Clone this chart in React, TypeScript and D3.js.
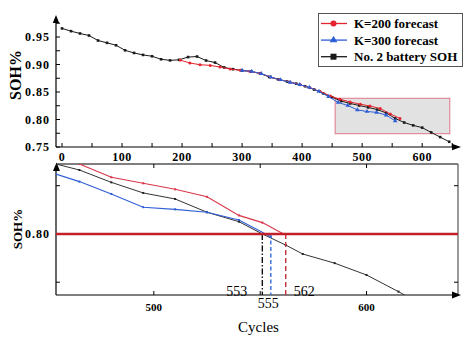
import React from "react";
import * as d3 from "d3";

// ---------- data ----------
// Upper panel: full degradation curve
const batteryCycles = [0, 15, 30, 45, 60, 75, 90, 105, 120, 135, 150, 165, 180, 195, 210, 225, 240, 255, 270, 285, 300, 315, 330, 345, 360, 375, 390, 405, 420, 435, 450, 465, 480, 495, 510, 525, 540, 555, 570, 585, 600, 615, 630, 645];
const batterySoh = [0.9656, 0.9606, 0.9564, 0.9527, 0.9436, 0.9394, 0.935, 0.9258, 0.921, 0.9174, 0.915, 0.9095, 0.9075, 0.9085, 0.9135, 0.9145, 0.9072, 0.9035, 0.8947, 0.8915, 0.889, 0.8874, 0.8835, 0.8775, 0.873, 0.869, 0.8652, 0.8605, 0.8545, 0.8475, 0.8405, 0.8335, 0.8292, 0.8255, 0.822, 0.818, 0.812, 0.802, 0.7945, 0.7893, 0.7852, 0.7765, 0.768, 0.7595];

const k200Cycles = [197, 213, 230, 247, 263, 280, 297, 313, 330, 347, 363, 380, 397, 413, 430, 447, 463, 480, 497, 513, 530, 547, 563];
const k200Soh = [0.908, 0.9027, 0.8996, 0.8984, 0.8954, 0.8918, 0.8895, 0.8875, 0.884, 0.8772, 0.8725, 0.868, 0.863, 0.8578, 0.851, 0.8428, 0.8368, 0.8318, 0.8278, 0.8245, 0.82, 0.81, 0.802];

const k300Cycles = [300, 316, 332, 348, 364, 380, 396, 412, 428, 444, 460, 476, 492, 508, 524, 540, 555];
const k300Soh = [0.8892, 0.8874, 0.8835, 0.877, 0.8722, 0.8675, 0.8632, 0.8585, 0.851, 0.8415, 0.831, 0.8255, 0.8175, 0.8145, 0.813, 0.808, 0.7976];

// Zoom window drawn on the upper panel
const zoomCycleRange = [455, 646];
const zoomSohRange = [0.7742, 0.8386];

// Lower panel: magnified view
const insetBatteryCycles = [454, 465, 480, 495, 510, 525, 540, 551, 562, 570, 585, 600, 615, 621];
const insetBatterySoh = [0.829, 0.8265, 0.8214, 0.817, 0.8145, 0.809, 0.8051, 0.8, 0.7954, 0.7917, 0.7879, 0.783, 0.7761, 0.7732];
const insetK200Cycles = [454, 465, 480, 495, 510, 525, 540, 551, 561];
const insetK200Soh = [0.833, 0.829, 0.8235, 0.821, 0.8185, 0.8154, 0.8077, 0.8047, 0.8];
const insetK300Cycles = [454, 465, 480, 495, 510, 525, 540, 555];
const insetK300Soh = [0.8248, 0.8217, 0.8166, 0.8111, 0.8102, 0.809, 0.8058, 0.7988];

const eolThreshold = 0.8;
const crossingCycles = [551, 555, 562];
const crossingLabels = ["553", "555", "562"];

const topXTicks = [0, 100, 200, 300, 400, 500, 600];
const topYTicks = [0.75, 0.8, 0.85, 0.9, 0.95];
const bottomXTicks = [500, 600];
const bottomYTicks = [0.8];

const legendLabels = ["K=200 forecast", "K=300 forecast", "No. 2 battery SOH"];

// ---------- styling ----------
const RED = "#e5242f";
const BLUE = "#2f5fd6";
const BLACK = "#1a1a1a";
const SERIF = "'Liberation Serif', 'DejaVu Serif', serif";

const zip = (xs: number[], ys: number[]) => xs.map((x, i) => [x, ys[i]] as [number, number]);

export default function App() {
  // upper panel scales
  const xTop = d3.scaleLinear().domain([-10, 663]).range([56, 460]);
  const yTop = d3.scaleLinear().domain([0.75, 0.99]).range([147, 15]);
  // lower panel scales
  const xBot = d3.scaleLinear().domain([454, 643]).range([56, 458]);
  const yBot = d3.scaleLinear().domain([0.7747, 0.829]).range([295, 164]);

  const lineTop = d3.line<[number, number]>().x((d) => xTop(d[0])).y((d) => yTop(d[1]));
  const lineBot = d3.line<[number, number]>().x((d) => xBot(d[0])).y((d) => yBot(d[1]));

  const tri = d3.symbol().type(d3.symbolTriangle).size(9)() as string;
  const triLegend = d3.symbol().type(d3.symbolTriangle).size(26)() as string;

  const battery = zip(batteryCycles, batterySoh);
  const k200 = zip(k200Cycles, k200Soh);
  const k300 = zip(k300Cycles, k300Soh);
  const iBattery = zip(insetBatteryCycles, insetBatterySoh);
  const iK200 = zip(insetK200Cycles, insetK200Soh);
  const iK300 = zip(insetK300Cycles, insetK300Soh);

  const topMinorY = d3.range(0.75, 0.976, 0.025);
  const topMinorX = d3.range(0, 651, 50);
  const botTickX = [500, 550, 600];
  const botTickY = [0.78, 0.82];

  const left = 56, right = 458, top = 164, bottom = 295;

  return (
    <svg width={474} height={355} style={{ position: "absolute", left: 0, top: 0, background: "#fff" }} fontFamily={SERIF}>
      <defs>
        <clipPath id="botClip">
          <rect x={left} y={top} width={right - left} height={bottom - top} />
        </clipPath>
      </defs>

      {/* ===== upper panel ===== */}
      <rect
        x={xTop(zoomCycleRange[0])}
        y={yTop(zoomSohRange[1])}
        width={xTop(zoomCycleRange[1]) - xTop(zoomCycleRange[0])}
        height={yTop(zoomSohRange[0]) - yTop(zoomSohRange[1])}
        fill="#e2e2e2"
        stroke="#e0788a"
        strokeWidth={1}
      />
      {/* axes */}
      <line x1={56} y1={147} x2={56} y2={22} stroke="#000" strokeWidth={1.2} />
      <path d="M56,15 L59.2,23 L52.8,23 Z" fill="#000" />
      <line x1={56} y1={147} x2={453} y2={147} stroke="#000" strokeWidth={1.2} />
      <path d="M461,147 L452,143.8 L452,150.2 Z" fill="#000" />
      {topMinorY.map((v) => (
        <line key={"ty" + v} x1={56} x2={60} y1={yTop(v)} y2={yTop(v)} stroke="#000" strokeWidth={1} />
      ))}
      {topMinorX.map((c) => (
        <line key={"tx" + c} x1={xTop(c)} x2={xTop(c)} y1={147} y2={143} stroke="#000" strokeWidth={1} />
      ))}
      {topYTicks.map((v) => (
        <text key={"tyl" + v} x={50} y={yTop(v)} dy="0.36em" textAnchor="end" fontSize={12} fontWeight="bold" letterSpacing={1}>
          {d3.format(".2f")(v)}
        </text>
      ))}
      {topXTicks.map((c) => (
        <text key={"txl" + c} x={xTop(c)} y={161} textAnchor="middle" fontSize={12} fontWeight="bold" letterSpacing={0.5}>
          {c}
        </text>
      ))}
      <text transform="translate(21,75) rotate(-90)" textAnchor="middle" fontSize={16} fontWeight="bold">
        SOH%
      </text>

      {/* series */}
      <path d={lineTop(battery) || ""} fill="none" stroke={BLACK} strokeWidth={1} />
      {battery.map((d, i) => (
        <rect key={"bm" + i} x={xTop(d[0]) - 1.3} y={yTop(d[1]) - 1.3} width={2.6} height={2.6} fill={BLACK} />
      ))}
      <path d={lineTop(k200) || ""} fill="none" stroke={RED} strokeWidth={1} />
      {k200.map((d, i) => (
        <circle key={"rm" + i} cx={xTop(d[0])} cy={yTop(d[1])} r={1.5} fill={RED} />
      ))}
      <path d={lineTop(k300) || ""} fill="none" stroke={BLUE} strokeWidth={1} />
      {k300.map((d, i) => (
        <path key={"um" + i} d={tri} transform={`translate(${xTop(d[0])},${yTop(d[1])})`} fill={BLUE} />
      ))}

      {/* legend */}
      <rect x={318.5} y={13.5} width={144} height={53} fill="#fff" stroke="#555" strokeWidth={1} />
      {legendLabels.map((lab, i) => {
        const y = 23.5 + i * 16.6;
        const col = [RED, BLUE, BLACK][i];
        return (
          <g key={lab}>
            <line x1={321} x2={347} y1={y} y2={y} stroke={col} strokeWidth={1.3} />
            {i === 0 && <circle cx={333.5} cy={y} r={3} fill={col} />}
            {i === 1 && <path d={triLegend} transform={`translate(333.5,${y})`} fill={col} />}
            {i === 2 && <rect x={330.5} y={y - 3} width={6} height={6} fill={col} />}
            <text x={354} y={y} dy="0.35em" fontSize={13} fontWeight="bold">
              {lab}
            </text>
          </g>
        );
      })}

      {/* ===== lower panel ===== */}
      <line x1={left} y1={top} x2={right} y2={top} stroke="#000" strokeWidth={1.2} />
      <line x1={right} y1={top} x2={right} y2={bottom} stroke="#555" strokeWidth={1.2} />
      <line x1={left} y1={bottom} x2={452} y2={bottom} stroke="#000" strokeWidth={1.2} />
      <line x1={left} y1={bottom} x2={left} y2={170} stroke="#000" strokeWidth={1.2} />
      <path d="M56.5,162.5 L60,171 L53,171 Z" fill="#000" />
      <path d="M461,295 L452,291.5 L452,298.5 Z" fill="#000" />
      {botTickX.map((c) => (
        <g key={"bx" + c}>
          <line x1={xBot(c)} x2={xBot(c)} y1={bottom} y2={bottom - 4} stroke="#000" />
          <line x1={xBot(c)} x2={xBot(c)} y1={top} y2={top + 4} stroke="#000" />
        </g>
      ))}
      {botTickY.map((v) => (
        <g key={"by" + v}>
          <line x1={left} x2={left + 4} y1={yBot(v)} y2={yBot(v)} stroke="#000" />
          <line x1={right} x2={right - 4} y1={yBot(v)} y2={yBot(v)} stroke="#000" />
        </g>
      ))}
      {bottomXTicks.map((c) => (
        <text key={"bxl" + c} x={xBot(c)} y={311} textAnchor="middle" fontSize={11} fontWeight="bold">
          {c}
        </text>
      ))}
      {bottomYTicks.map((v) => (
        <text key={"byl" + v} x={50} y={yBot(v)} dy="0.36em" textAnchor="end" fontSize={12} fontWeight="bold" letterSpacing={1}>
          {d3.format(".2f")(v)}
        </text>
      ))}
      <text transform="translate(21.5,229) rotate(-90)" textAnchor="middle" fontSize={13} fontWeight="bold">
        SOH%
      </text>
      <text x={258.5} y={332} textAnchor="middle" fontSize={15}>
        Cycles
      </text>

      <g clipPath="url(#botClip)">
        <path d={lineBot(iBattery) || ""} fill="none" stroke="#333" strokeWidth={1} />
        {iBattery.map((d, i) => (
          <rect key={"ibm" + i} x={xBot(d[0]) - 1} y={yBot(d[1]) - 1} width={2} height={2} fill="#222" />
        ))}
        <path d={lineBot(iK300) || ""} fill="none" stroke={BLUE} strokeWidth={1.1} />
        {iK300.map((d, i) => (
          <rect key={"ium" + i} x={xBot(d[0]) - 1} y={yBot(d[1]) - 1} width={2} height={2} fill={BLUE} />
        ))}
        <path d={lineBot(iK200) || ""} fill="none" stroke="#d9364a" strokeWidth={1.1} />
        {iK200.map((d, i) => (
          <rect key={"irm" + i} x={xBot(d[0]) - 1} y={yBot(d[1]) - 1} width={2} height={2} fill="#d9364a" />
        ))}
      </g>

      {/* end-of-life crossings */}
      {crossingCycles.map((c, i) => (
        <line
          key={"cr" + i}
          x1={xBot(c)}
          x2={xBot(c)}
          y1={yBot(eolThreshold)}
          y2={bottom}
          stroke={["#111", "#2f6fd6", "#c8303f"][i]}
          strokeWidth={1.4}
          strokeDasharray={["6,2,1.5,2", "4,2.5", "5,3"][i]}
        />
      ))}
      <line x1={left} x2={right} y1={yBot(eolThreshold)} y2={yBot(eolThreshold)} stroke="#c3202c" strokeWidth={2.6} />
      <text x={xBot(crossingCycles[0]) - 15} y={296} textAnchor="end" fontSize={14}>
        {crossingLabels[0]}
      </text>
      <text x={xBot(crossingCycles[1]) - 2.5} y={307.5} textAnchor="middle" fontSize={14}>
        {crossingLabels[1]}
      </text>
      <text x={xBot(crossingCycles[2]) + 8} y={296} textAnchor="start" fontSize={14}>
        {crossingLabels[2]}
      </text>
    </svg>
  );
}
